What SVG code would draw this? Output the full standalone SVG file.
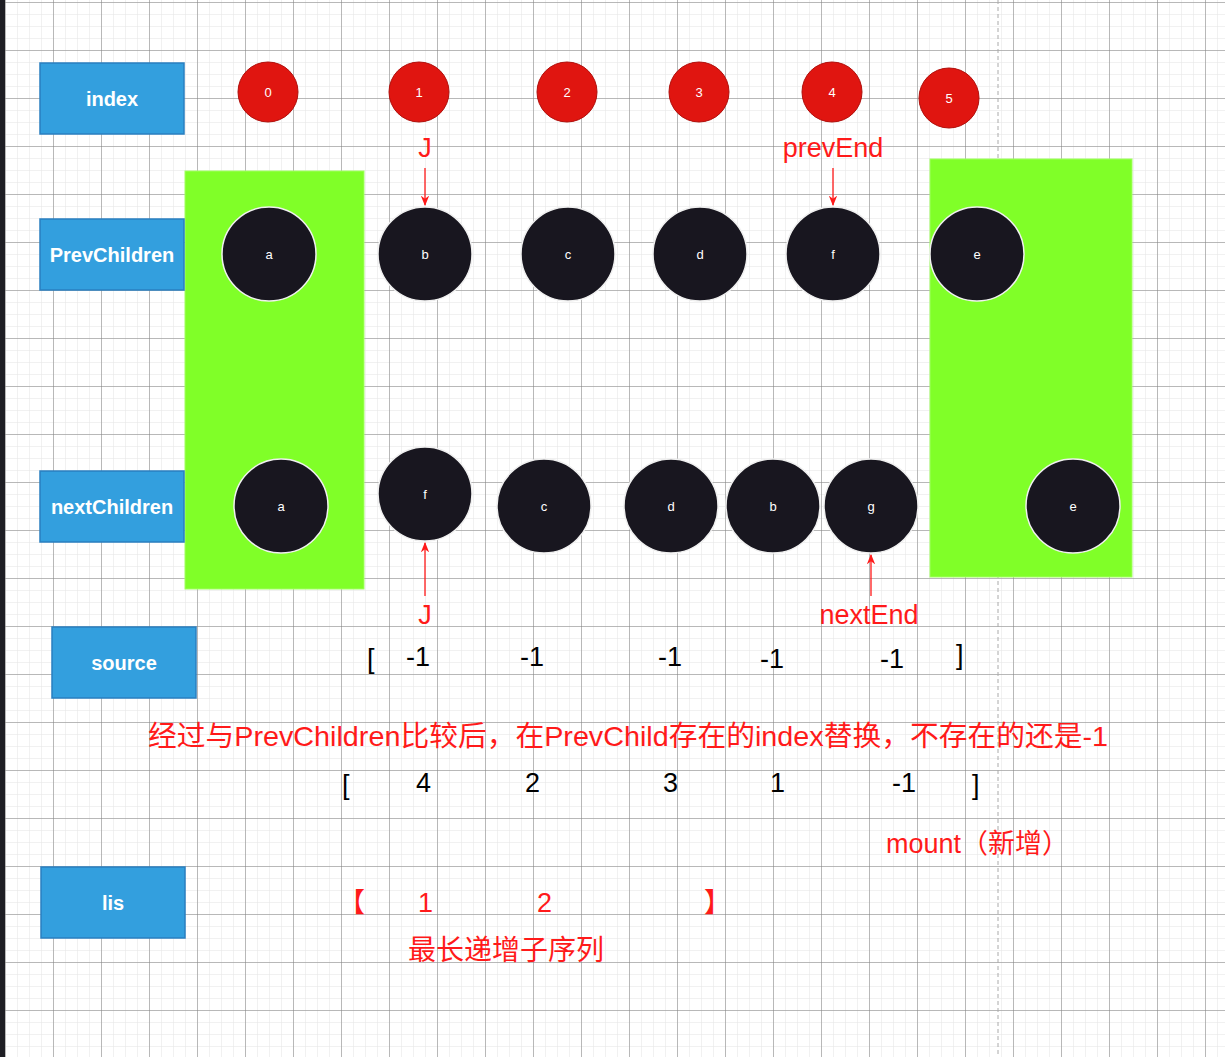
<svg xmlns="http://www.w3.org/2000/svg" width="1225" height="1057" viewBox="0 0 1225 1057">
<style>
.lbl rect{fill:#339fde;stroke:#2a7fc0;stroke-width:1.5}
.lbl text{fill:#fff;font:bold 20px "Liberation Sans",Arial,sans-serif;text-anchor:middle}
.idx circle{fill:#e01510;stroke:#b00e0a;stroke-width:1}
.idx text{fill:#fff;font:13px "Liberation Sans",Arial,sans-serif;text-anchor:middle}
.nd circle{fill:#18161f;stroke:#f0f0f0;stroke-width:1.5}
.nd text{fill:#fff;font:13px "Liberation Sans",Arial,sans-serif;text-anchor:middle}
.red{fill:#ff1a1a;font-family:"Liberation Sans","Noto Sans CJK SC",sans-serif}
.blk{fill:#000;font-family:"Liberation Sans",sans-serif;font-size:27px}
</style>
<defs>
<pattern id="mi" width="12" height="12" patternUnits="userSpaceOnUse" x="5" y="2"><path d="M0 0H12M0 0V12" stroke="#e4e4e4" stroke-width="1" fill="none"/></pattern>
<pattern id="ma" width="48" height="48" patternUnits="userSpaceOnUse" x="5" y="2"><path d="M0 0H48M0 0V48" stroke="#808080" stroke-width="1" fill="none"/></pattern>
<marker id="ar" viewBox="0 0 10 10" refX="9" refY="5" markerWidth="8" markerHeight="8" orient="auto"><path d="M0 1L10 5L0 9L3 5Z" fill="#ff1a1a"/></marker>
</defs>
<rect width="1225" height="1057" fill="#fff"/>
<rect width="1225" height="1057" fill="url(#mi)"/>
<rect width="1225" height="1057" fill="url(#ma)"/>
<rect x="0" y="0" width="5" height="1057" fill="#1e1e24"/>
<line x1="998" y1="0" x2="998" y2="1057" stroke="#aaa" stroke-dasharray="4 3"/>
<rect x="185" y="171" width="179" height="418" fill="#80ff28" stroke="#a0ff60"/>
<rect x="930" y="159" width="202" height="418" fill="#80ff28" stroke="#a0ff60"/>
<g id="labels" class="lbl">
<g id="l-index"><rect x="40" y="63" width="144" height="71"/><text x="112" y="106">index</text></g>
<g id="l-prev"><rect x="40" y="219" width="144" height="71"/><text x="112" y="262">PrevChildren</text></g>
<g id="l-next"><rect x="40" y="471" width="144" height="71"/><text x="112" y="514">nextChildren</text></g>
<g id="l-source"><rect x="52" y="627" width="144" height="71"/><text x="124" y="670">source</text></g>
<g id="l-lis"><rect x="41" y="867" width="144" height="71"/><text x="113" y="910">lis</text></g>
</g>
<g id="indices" class="idx">
<g id="i0"><circle cx="268" cy="92" r="30"/><text x="268" y="97">0</text></g>
<g id="i1"><circle cx="419" cy="92" r="30"/><text x="419" y="97">1</text></g>
<g id="i2"><circle cx="567" cy="92" r="30"/><text x="567" y="97">2</text></g>
<g id="i3"><circle cx="699" cy="92" r="30"/><text x="699" y="97">3</text></g>
<g id="i4"><circle cx="832" cy="92" r="30"/><text x="832" y="97">4</text></g>
<g id="i5"><circle cx="949" cy="98" r="30"/><text x="949" y="103">5</text></g>
</g>
<g id="prev" class="nd">
<g id="pa"><circle cx="269" cy="254" r="47"/><text x="269" y="259">a</text></g>
<g id="pb"><circle cx="425" cy="254" r="47"/><text x="425" y="259">b</text></g>
<g id="pc"><circle cx="568" cy="254" r="47"/><text x="568" y="259">c</text></g>
<g id="pd"><circle cx="700" cy="254" r="47"/><text x="700" y="259">d</text></g>
<g id="pf"><circle cx="833" cy="254" r="47"/><text x="833" y="259">f</text></g>
<g id="pe"><circle cx="977" cy="254" r="47"/><text x="977" y="259">e</text></g>
</g>
<g id="next" class="nd">
<g id="na"><circle cx="281" cy="506" r="47"/><text x="281" y="511">a</text></g>
<g id="nf"><circle cx="425" cy="494" r="47"/><text x="425" y="499">f</text></g>
<g id="nc"><circle cx="544" cy="506" r="47"/><text x="544" y="511">c</text></g>
<g id="nd"><circle cx="671" cy="506" r="47"/><text x="671" y="511">d</text></g>
<g id="nb"><circle cx="773" cy="506" r="47"/><text x="773" y="511">b</text></g>
<g id="ng"><circle cx="871" cy="506" r="47"/><text x="871" y="511">g</text></g>
<g id="ne"><circle cx="1073" cy="506" r="47"/><text x="1073" y="511">e</text></g>
</g>
<g id="connectors" stroke="#ff1a1a" stroke-width="1.3" fill="none" marker-end="url(#ar)">
<line x1="425" y1="168" x2="425" y2="205"/>
<line x1="833" y1="168" x2="833" y2="205"/>
<line x1="425" y1="596" x2="425" y2="543"/>
<line x1="871" y1="596" x2="871" y2="555"/>
</g>
<g id="texts">
<text class="red" x="425" y="157" font-size="27" text-anchor="middle">J</text>
<text class="red" x="833" y="157" font-size="27" text-anchor="middle">prevEnd</text>
<text class="red" x="425" y="624" font-size="27" text-anchor="middle">J</text>
<text class="red" x="869" y="624" font-size="27" text-anchor="middle">nextEnd</text>
<text class="blk" x="367" y="668">[</text>
<text class="blk" x="406" y="666">-1</text>
<text class="blk" x="520" y="666">-1</text>
<text class="blk" x="658" y="666">-1</text>
<text class="blk" x="760" y="668">-1</text>
<text class="blk" x="880" y="668">-1</text>
<text class="blk" x="956" y="664">]</text>
<text class="red" x="148" y="746" font-size="28" textLength="960" lengthAdjust="spacingAndGlyphs">经过与PrevChildren比较后，在PrevChild存在的index替换，不存在的还是-1</text>
<text class="blk" x="342" y="794">[</text>
<text class="blk" x="416" y="792">4</text>
<text class="blk" x="525" y="792">2</text>
<text class="blk" x="663" y="792">3</text>
<text class="blk" x="770" y="792">1</text>
<text class="blk" x="892" y="792">-1</text>
<text class="blk" x="972" y="794">]</text>
<text class="red" x="886" y="853" font-size="27">mount（新增）</text>
<text class="red" x="338" y="912" font-size="27">【</text>
<text class="red" x="418" y="912" font-size="27">1</text>
<text class="red" x="537" y="912" font-size="27">2</text>
<text class="red" x="704" y="912" font-size="27">】</text>
<text class="red" x="408" y="960" font-size="28">最长递增子序列</text>
</g>
</svg>
